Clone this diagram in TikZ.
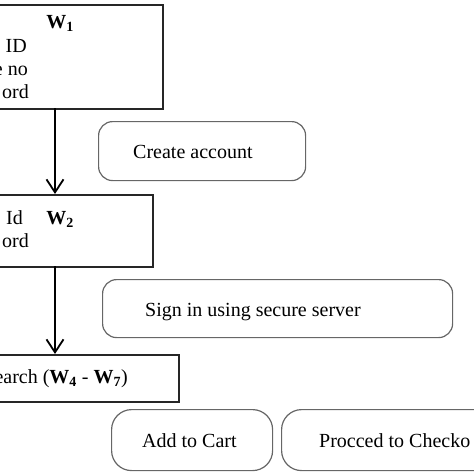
\documentclass[tikz,border=0pt]{standalone}
\usepackage{fontspec}
\setmainfont{Liberation Serif}
\usetikzlibrary{arrows.meta}
\begin{document}
\begin{tikzpicture}[x=1pt,y=-1pt,
  font=\fontsize{20}{23}\selectfont,
  sqbox/.style={draw=black!85,line width=1.9pt,rectangle,inner sep=0pt,anchor=north west},
  rbox/.style={draw=black!60,line width=1.2pt,rectangle,rounded corners=14pt,inner sep=0pt,anchor=north west},
  txt/.style={inner sep=0pt},
  flow/.style={line width=1.9pt,-{Straight Barb[length=13pt,width=17pt,line width=1.8pt]}}]
\useasboundingbox (0,0) rectangle (474,474);
\clip (0,0) rectangle (474,474);
% square boxes
\node[sqbox,minimum width=362pt,minimum height=104pt] (b1) at (-200,4) {};
\node[sqbox,minimum width=352pt,minimum height=72pt] (b2) at (-200,194) {};
\node[sqbox,minimum width=378pt,minimum height=47pt] (b3) at (-200,354) {};
% texts of box 1
\node[txt,anchor=base] (w1) at (60,28) {\textbf{W\textsubscript{1}}};
\node[txt,anchor=base east] (t11) at (27,52) {ID};
\node[txt,anchor=base east] (t12) at (28,75) {e no};
\node[txt,anchor=base east] (t13) at (29,98) {ord};
% texts of box 2
\node[txt,anchor=base east] (t21) at (23,224) {Id};
\node[txt,anchor=base] (w2) at (60,224) {\textbf{W\textsubscript{2}}};
\node[txt,anchor=base east] (t22) at (29,247) {ord};
% text of box 3
\node[txt,anchor=base east] (t31) at (128,383) {earch (\textbf{W\textsubscript{4}} - \textbf{W\textsubscript{7}})};
% rounded boxes
\node[rbox,minimum width=207pt,minimum height=59pt] (ca) at (98,121) {};
\node[txt,anchor=base west] (cat) at (133,158) {Create account};
\node[rbox,minimum width=350pt,minimum height=58pt] (si) at (102,279) {};
\node[txt,anchor=base west] (sit) at (145,316) {Sign in using secure server};
\node[rbox,rounded corners=20pt,minimum width=161pt,minimum height=61pt] (ac) at (111,409) {};
\node[txt,anchor=base west] (act) at (142,447) {Add to Cart};
\node[rbox,rounded corners=20pt,minimum width=260pt,minimum height=61pt] (pc) at (281,409) {};
\node[txt,anchor=base west] (pct) at (319,447) {Procced to Checko};
% arrows
\coordinate (a1) at (55,108);
\coordinate (a2) at (55,266);
\draw[flow] (a1) -- (a1 |- b2.north);
\draw[flow] (a2) -- (a2 |- b3.north);
\end{tikzpicture}
\end{document}
